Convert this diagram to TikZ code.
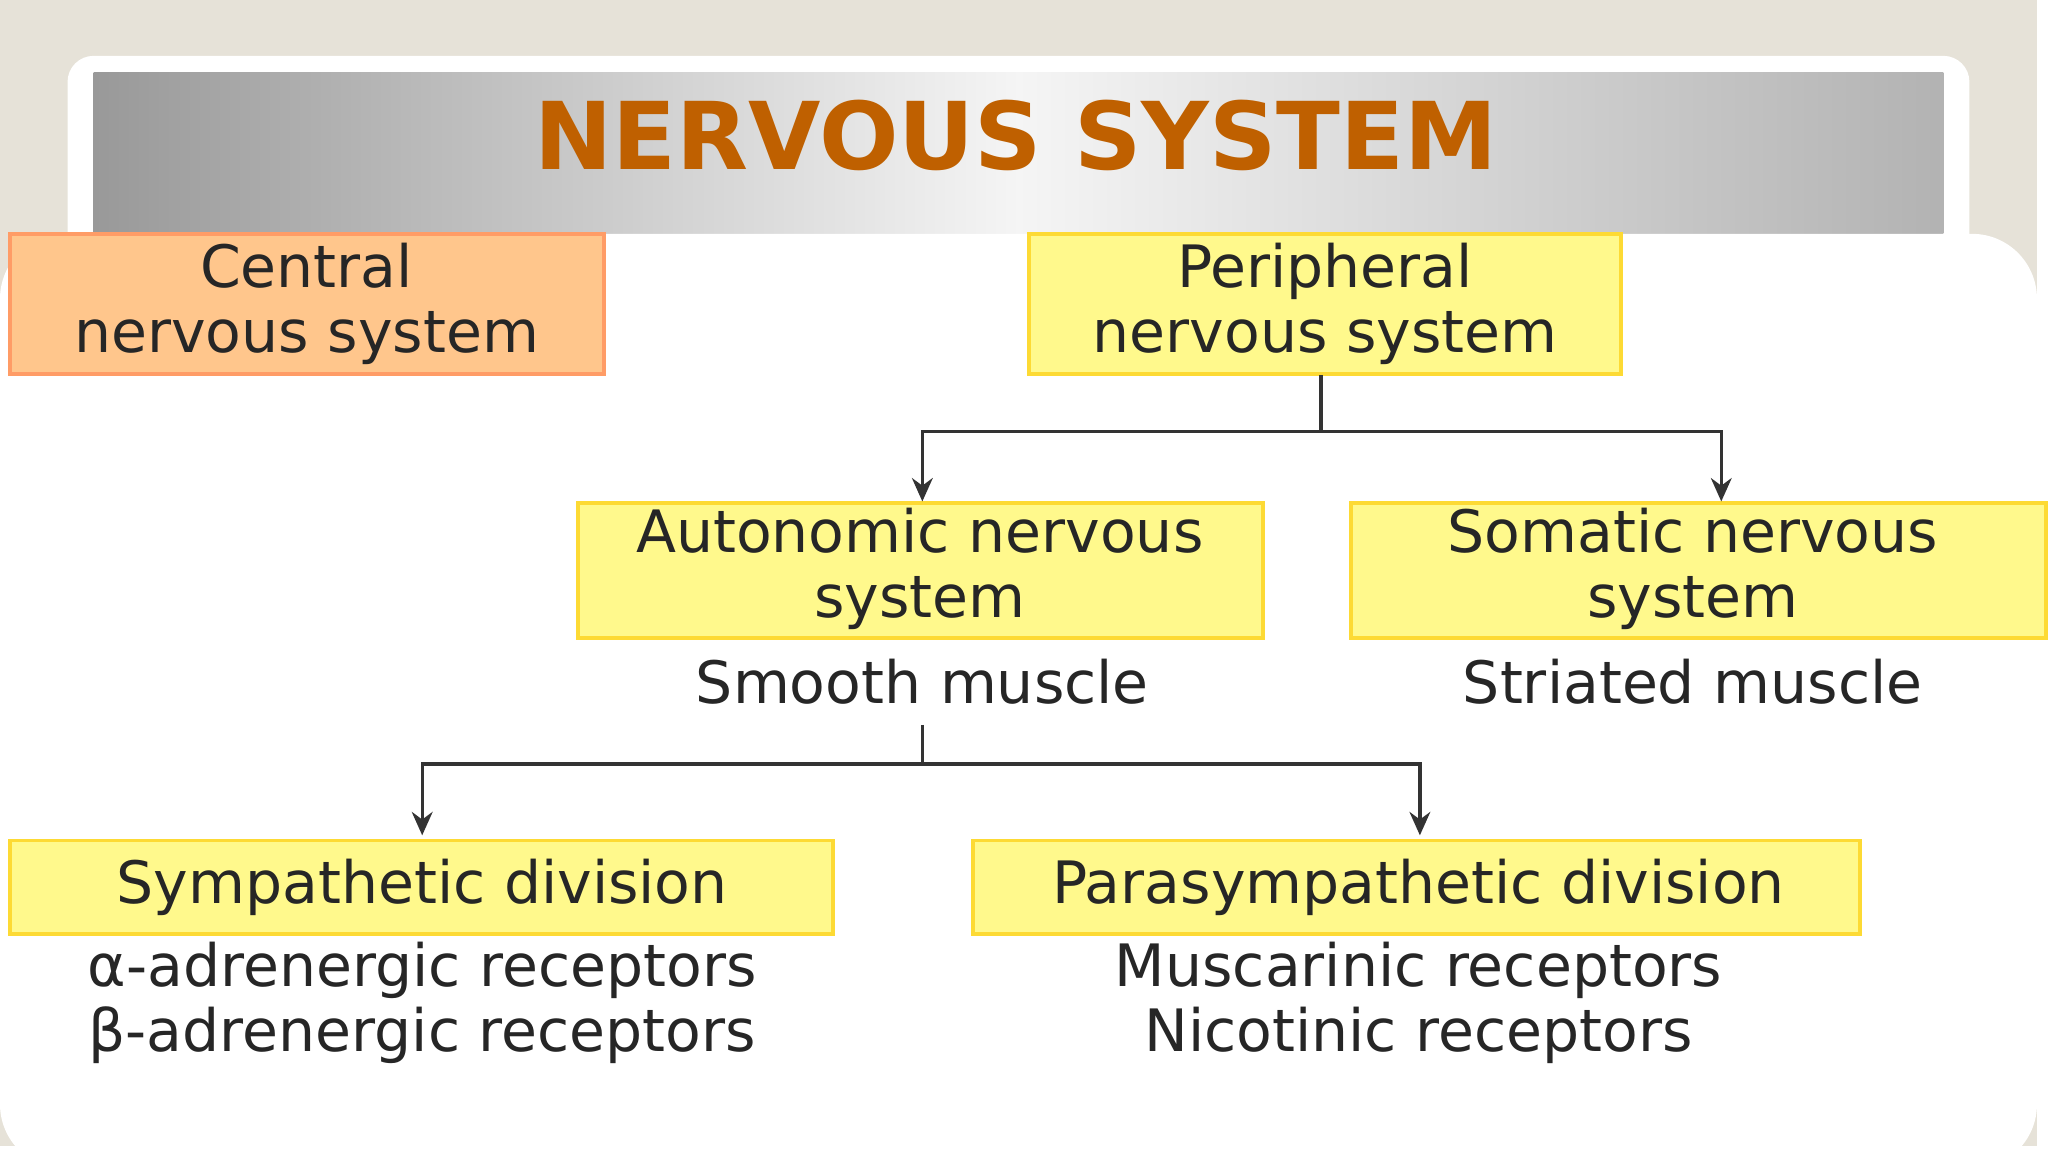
\documentclass[tikz,border=0pt]{standalone}
\usepackage{fontspec}
\setmainfont{DejaVu Sans}
\usetikzlibrary{arrows.meta}
\begin{document}
\begin{tikzpicture}[x=0.5pt,y=-0.5pt,
  ybox/.style={draw=yellow!70!orange!80!white,line width=1.5pt,fill=yellow!45!white},
  lbl/.style={font=\fontsize{22.5}{25}\selectfont,text=black!85,align=center},
  conn/.style={line width=1.3pt,draw=black!80},
  arr/.style={conn,-{Stealth[length=9pt,width=8pt]}}]
\definecolor{bgbeige}{HTML}{E6E2D8}
\fill[bgbeige] (0,0) rectangle (1568,882);
\fill[white,rounded corners=10pt] (52,43) rectangle (1516,900);
\shade[left color=black!40,right color=black!30,middle color=black!4] (72,56) rectangle (1496,180);
\node[font=\bfseries\fontsize{36}{40}\selectfont,text=orange!75!black] (title) at (782,104) {NERVOUS SYSTEM};
\fill[white,rounded corners=25pt] (0,180) -- (1568,180) -- (1568,900) -- (0,900) -- cycle;
% boxes
\draw[draw=orange!70!red!60,line width=1.5pt,fill=orange!45!white] (8,180) rectangle (465,288);
\node[lbl] (cns) at (236,234) {Central\\nervous system};
\draw[ybox] (792,180) rectangle (1248,288);
\node[lbl] (pns) at (1020,234) {Peripheral\\nervous system};
\draw[ybox] (445,387) rectangle (972,491);
\node[lbl] (ans) at (708,438) {Autonomic nervous\\system};
\draw[ybox] (1040,387) rectangle (1575,491);
\node[lbl] (sns) at (1303,438) {Somatic nervous\\system};
\node[lbl] (smooth) at (710,525) {Smooth muscle};
\node[lbl] (stri) at (1303,525) {Striated muscle};
\draw[ybox] (8,647) rectangle (641,719);
\node[lbl] (sym) at (325,683) {Sympathetic division};
\draw[ybox] (749,647) rectangle (1432,719);
\node[lbl] (para) at (1092,683) {Parasympathetic division};
\node[lbl] (ab) at (325,772) {α-adrenergic receptors\\β-adrenergic receptors};
\node[lbl] (mn) at (1092,772) {Muscarinic receptors\\Nicotinic receptors};
% connectors
\coordinate (j1) at (1017,332);
\draw[conn] (1017,289) -- (j1);
\draw[arr] (j1) -| (710,386);
\draw[arr] (j1) -| (1325,386);
\coordinate (j2) at (710,588);
\draw[conn] (710,558) -- (j2);
\draw[arr] (j2) -| (325,643);
\draw[arr] (j2) -| (1093,643);
\end{tikzpicture}
\end{document}
